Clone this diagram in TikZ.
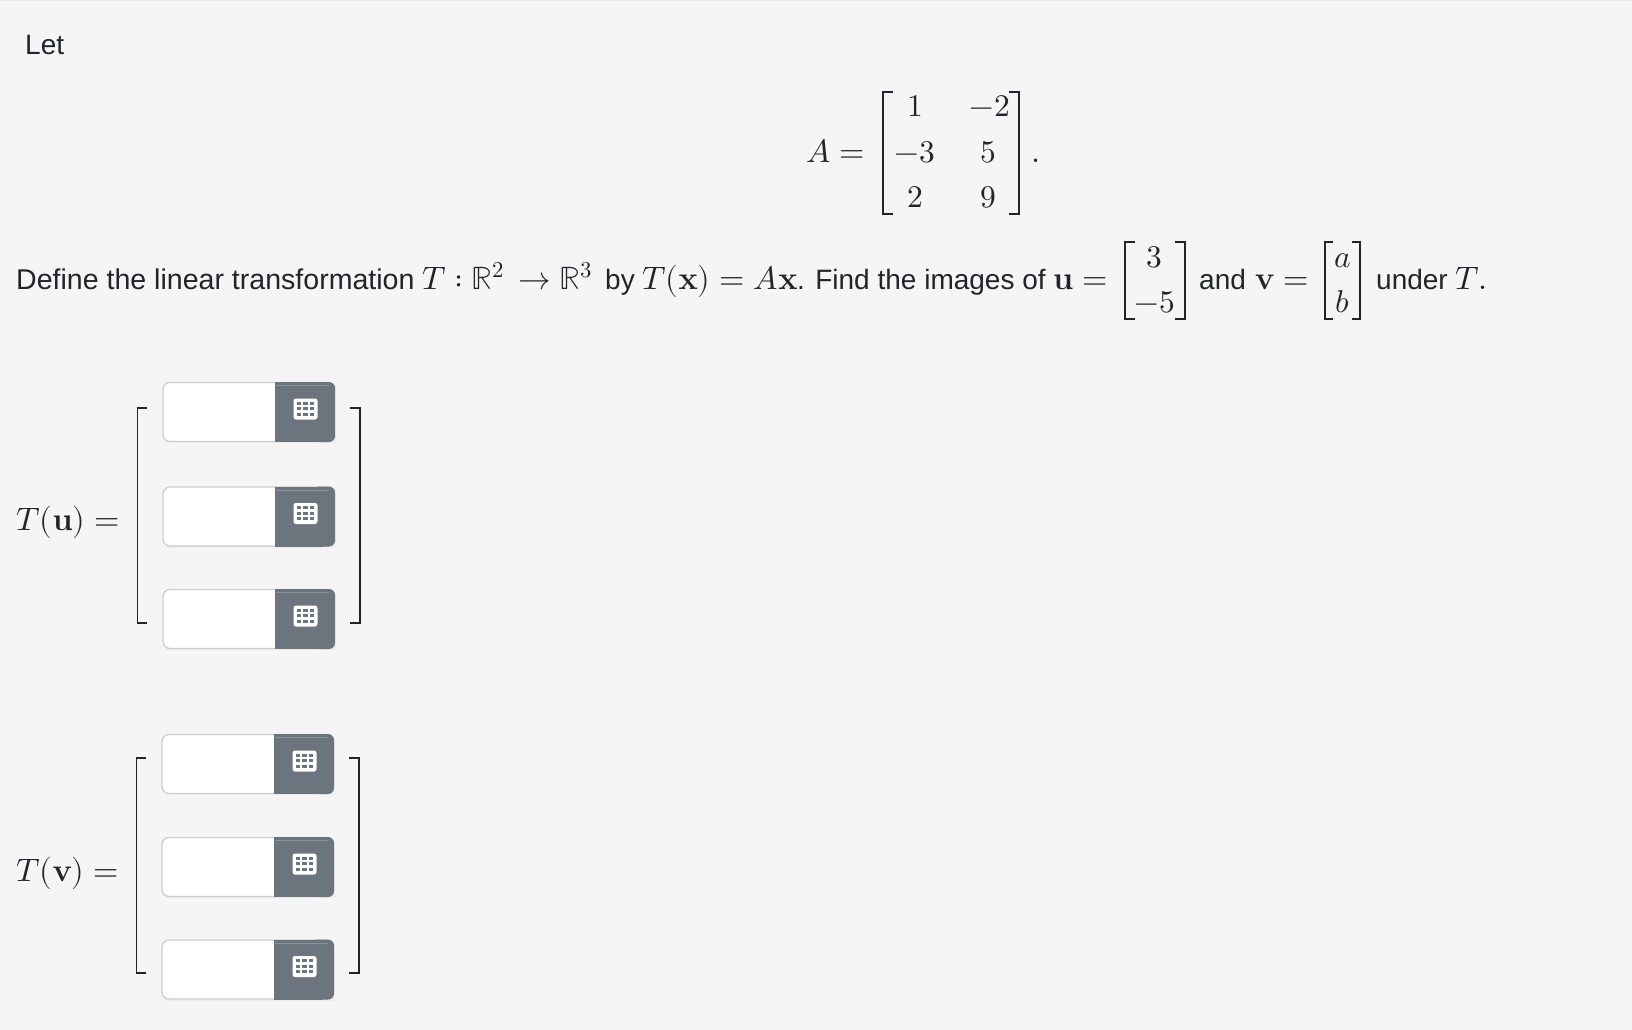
\documentclass[tikz,border=0pt]{standalone}
\usepackage{amsmath}
\usepackage{fontspec}
\usepackage{unicode-math}
\setmathfont{Latin Modern Math}
\newfontfamily\uifont{Liberation Sans}
\definecolor{pagebg}{HTML}{F5F5F5}
\definecolor{ink}{HTML}{212529}
\definecolor{btn}{HTML}{6C757D}
\definecolor{btnlight}{HTML}{8B9298}
\definecolor{fieldline}{HTML}{CECECE}
\newcommand{\msize}{\fontsize{32.5}{38}\selectfont}
\newcommand{\mentry}{\fontsize{31.5}{36}\selectfont}
\tikzset{
  word/.style={anchor=base west,inner sep=0pt,text=ink,font=\uifont\fontsize{28}{32}\selectfont},
  formula/.style={anchor=base west,inner sep=0pt,text=ink,font=\msize},
  entry/.style={anchor=base,inner sep=0pt,text=ink,font=\mentry},
  brack/.style={draw=ink,line width=1.6pt},
  smallbrack/.style={draw=ink,line width=1.1pt},
}
% one answer field with its grid button, (#1,#2) is the top left corner
\newcommand{\answerfield}[2]{
  \fill[black!7] (#1+3,#2+2) rectangle (#1+173,#2+60.5);
  \draw[fieldline,line width=1.3pt,fill=white,rounded corners=7pt] (#1,#2) rectangle (#1+171,#2+59);
  \fill[btn,rounded corners=6pt] (#1+150,#2-.5) rectangle (#1+172,#2+59.5);
  \fill[btn] (#1+112,#2-.5) rectangle (#1+160,#2+59.5);
  \draw[btnlight,line width=1pt] (#1+113,#2+3) -- (#1+166,#2+3);
  \fill[white,rounded corners=2.5pt] (#1+130.5,#2+16) rectangle (#1+154.5,#2+37);
  \foreach \i in {0,1,2}
    \foreach \j in {0,1,2}
      \fill[btn] (#1+133.7+\i*6.7,#2+19+\j*5.6) rectangle +(4.3,3);
}
\begin{document}
\begin{tikzpicture}[x=1pt,y=-1pt]
\useasboundingbox (0,0) rectangle (1632,1030);
\fill[pagebg] (0,0) rectangle (1632,1030);
\fill[black!8] (0,0) rectangle (1632,1.5);

\node[word] (let) at (25,55) {Let};

% matrix A
\node[formula] (lhsA) at (806,162) {$A=$};
\draw[brack] (893,92) -- (883,92) -- (883,214) -- (893,214);
\draw[brack] (1009,92) -- (1019,92) -- (1019,214) -- (1009,214);
\node[entry] (a11) at (915,117) {$1$};
\node[entry,anchor=base east] (a12) at (1010,117) {$-2$};
\node[entry,anchor=base east] (a21) at (935,162) {$-3$};
\node[entry] (a22) at (988.5,162) {$5$};
\node[entry] (a31) at (915,207) {$2$};
\node[entry] (a32) at (988.5,207) {$9$};
\node[formula] (dotA) at (1031,162) {$.$};

% sentence
\node[word,font=\uifont\fontsize{28.55}{32}\selectfont] (t1) at (16,289) {Define the linear transformation};
\node[formula] (t2) at (422,289) {$T:\mkern-1mu\mathbb{R}^2\mkern3mu\to\mathbb{R}^3$};
\node[word] (t3) at (605,289) {by};
\node[formula] (t4) at (642,289) {$T(\mathbf{x})=A\mathbf{x}$};
\node[word] (t5) at (797,289) {. Find the images of};
\node[formula] (t6) at (1053,289) {$\mathbf{u}=$};
\draw[smallbrack] (1135,242) -- (1125,242) -- (1125,319) -- (1135,319);
\draw[smallbrack] (1175,242) -- (1185,242) -- (1185,319) -- (1175,319);
\node[entry] (u1) at (1154.5,267) {$3$};
\node[entry] (u2) at (1155,312) {$-5$};
\node[word] (t7) at (1199,289) {and};
\node[formula] (t8) at (1255,289) {$\mathbf{v}=$};
\draw[smallbrack] (1333,242) -- (1325,242) -- (1325,319) -- (1333,319);
\draw[smallbrack] (1352,242) -- (1360,242) -- (1360,319) -- (1352,319);
\node[entry] (v1) at (1343,267) {$a$};
\node[entry] (v2) at (1342.5,312) {$b$};
\node[word] (t9) at (1376,289) {under};
\node[formula] (t10) at (1455,289) {$T.$};

% T(u)
\node[formula] (tu) at (16,530) {$T(\mathbf{u})=$};
\draw[brack] (147,408) -- (137.5,408) -- (137.5,623) -- (147,623);
\draw[brack] (350,408) -- (360,408) -- (360,623) -- (350,623);
\foreach \y in {382.5,487,589.5}{
  \answerfield{163}{\y}
}

% T(v)
\node[formula] (tv) at (16,881) {$T(\mathbf{v})=$};
\draw[brack] (146,758) -- (136.5,758) -- (136.5,973) -- (146,973);
\draw[brack] (349,758) -- (359,758) -- (359,973) -- (349,973);
\foreach \y in {734.5,837.5,940}{
  \answerfield{162}{\y}
}
\end{tikzpicture}
\end{document}
